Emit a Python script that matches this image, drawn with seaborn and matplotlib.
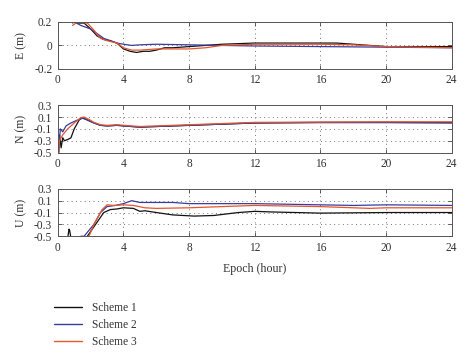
import numpy as np
import pandas as pd
import matplotlib
matplotlib.use("Agg")
import matplotlib.pyplot as plt
import seaborn as sns
from matplotlib.lines import Line2D

# ---- data (hours, metres) ----
# E component
e_t1 = [0.9, 1.2, 1.6, 2.0, 2.4, 2.8, 3.2, 3.6, 4.0, 4.4, 4.8, 5.2, 5.6, 6.0, 6.5, 7, 8, 9, 10, 11, 12, 14, 16, 17, 18, 19, 20, 22, 24]
e_s1 = [0.20, 0.19, 0.19, 0.14, 0.08, 0.05, 0.04, 0.02, -0.03, -0.05, -0.06, -0.05, -0.05, -0.04, -0.02, -0.02, -0.01, 0.0, 0.01, 0.015, 0.02, 0.02, 0.02, 0.02, 0.01, 0.0, -0.01, -0.01, -0.01]
e_t2 = [0.9, 1.0, 1.4, 2.0, 2.4, 2.8, 3.2, 3.6, 4.0, 4.5, 5, 6, 8, 10, 12, 16, 20, 24]
e_s2 = [0.19, 0.20, 0.17, 0.14, 0.10, 0.06, 0.04, 0.02, 0.01, 0.0, 0.005, 0.01, 0.005, 0.0, -0.005, -0.01, -0.015, -0.02]
e_t3 = [0.9, 1.2, 1.8, 2.2, 2.6, 3.0, 3.6, 4.0, 4.5, 5, 6, 8, 9, 10, 12, 16, 18, 20, 24]
e_s3 = [0.17, 0.20, 0.19, 0.13, 0.06, 0.04, 0.02, -0.02, -0.04, -0.04, -0.03, -0.03, -0.02, 0.0, 0.01, 0.01, 0.005, -0.01, -0.02]

# N component
n_t1 = [0.05, 0.1, 0.2, 0.3, 0.4, 0.6, 0.8, 1.0, 1.3, 1.5, 1.8, 2.2, 2.6, 3.0, 3.6, 4.5, 5, 6, 8, 10, 12, 16, 20, 24]
n_s1 = [-0.50, -0.20, -0.42, -0.25, -0.30, -0.28, -0.25, -0.10, 0.05, 0.09, 0.05, 0.0, -0.04, -0.05, -0.04, -0.06, -0.07, -0.06, -0.04, -0.02, 0.0, 0.01, 0.01, 0.005]
n_t2 = [0.05, 0.15, 0.3, 0.5, 0.8, 1.2, 1.5, 1.8, 2.2, 2.6, 3.0, 3.6, 4.5, 5, 6, 8, 10, 12, 16, 20, 24]
n_s2 = [-0.50, -0.10, -0.15, -0.05, 0.0, 0.05, 0.08, 0.05, 0.0, -0.04, -0.05, -0.04, -0.06, -0.07, -0.06, -0.04, -0.02, 0.0, 0.005, 0.005, 0.0]
n_t3 = [0.05, 0.1, 0.3, 0.6, 1.0, 1.4, 1.6, 1.9, 2.2, 2.6, 3.0, 3.6, 4.5, 5, 6, 8, 10, 12, 16, 20, 24]
n_s3 = [-0.50, -0.30, -0.20, -0.10, 0.0, 0.09, 0.10, 0.06, 0.01, -0.03, -0.04, -0.03, -0.05, -0.06, -0.05, -0.03, -0.01, 0.01, 0.015, 0.02, 0.02]

# U component (values below -0.5 run off the bottom of the panel)
u_t1 = [0.55, 0.62, 0.68, 0.72, 0.78, 0.85, 1.7, 1.8, 2.3, 2.8, 3.2, 3.6, 4.0, 4.6, 5.0, 5.3, 6, 7, 8.3, 9.5, 11, 12, 13, 16, 20, 22, 24]
u_s1 = [-0.70, -0.50, -0.38, -0.40, -0.50, -0.70, -0.70, -0.50, -0.30, -0.10, -0.05, -0.04, -0.02, -0.03, -0.08, -0.07, -0.10, -0.14, -0.16, -0.15, -0.10, -0.08, -0.09, -0.11, -0.10, -0.10, -0.10]
u_t2 = [1.3, 1.4, 1.6, 2.2, 2.6, 3.0, 3.5, 4.0, 4.5, 5, 7, 8, 12, 16, 18, 20, 24]
u_s2 = [-0.70, -0.50, -0.50, -0.30, -0.10, 0.0, 0.02, 0.05, 0.10, 0.07, 0.07, 0.05, 0.05, 0.03, 0.02, 0.03, 0.02]
u_t3 = [1.8, 1.9, 2.2, 2.7, 3.0, 3.4, 4.0, 4.6, 5.3, 6, 8, 10, 12, 16, 19, 20, 24]
u_s3 = [-0.70, -0.50, -0.30, -0.05, 0.03, 0.02, 0.03, 0.02, -0.02, -0.03, -0.02, 0.0, 0.02, 0.0, -0.03, -0.02, -0.02]

schemes = ["Scheme 1", "Scheme 2", "Scheme 3"]
colors = ["#111111", "#3b3b9e", "#e4572e"]

panels = [
    ("E (m)", [(e_t1, e_s1), (e_t2, e_s2), (e_t3, e_s3)], (-0.2, 0.2), [-0.2, 0, 0.2], ["-0.2", "0", "0.2"], [0]),
    ("N (m)", [(n_t1, n_s1), (n_t2, n_s2), (n_t3, n_s3)], (-0.5, 0.3), [-0.5, -0.3, -0.1, 0.1, 0.3], ["-0.5", "-0.3", "-0.1", "0.1", "0.3"], [-0.3, -0.1, 0.1]),
    ("U (m)", [(u_t1, u_s1), (u_t2, u_s2), (u_t3, u_s3)], (-0.5, 0.3), [-0.5, -0.3, -0.1, 0.1, 0.3], ["-0.5", "-0.3", "-0.1", "0.1", "0.3"], [-0.3, -0.1, 0.1]),
]
xticks = [0, 4, 8, 12, 16, 20, 24]

sns.set_style("ticks")
plt.rcParams['font.family'] = ['Liberation Serif', 'DejaVu Serif']

fig = plt.figure(figsize=(4.74, 3.59), dpi=100)
boxes = [[0.122, 0.808, 0.831, 0.131],
         [0.122, 0.575, 0.831, 0.132],
         [0.122, 0.342, 0.831, 0.132]]

txt = "#333333"
for box, (ylab, series, ylim, yt, ytl, hgrid) in zip(boxes, panels):
    ax = fig.add_axes(box)
    for (t, v), name, c in zip(series, schemes, colors):
        df = pd.DataFrame({"t": t, "v": v})
        sns.lineplot(data=df, x="t", y="v", color=c, lw=0.9, ax=ax, sort=False)
    for x in xticks[1:-1]:
        ax.axvline(x, color="#777777", ls=(0, (1, 3.5)), lw=0.7, zorder=0)
    for y in hgrid:
        ax.axhline(y, color="#777777", ls=(0, (1, 3.5)), lw=0.7, zorder=0)
    ax.set_xlim(0, 24)
    ax.set_ylim(*ylim)
    ax.set_xticks(xticks)
    ax.set_yticks(yt)
    ax.set_yticklabels(ytl)
    ax.set_xlabel("")
    ax.set_ylabel(ylab, fontsize=8.5, color=txt, labelpad=5)
    ax.tick_params(direction="in", top=True, right=True, length=3, width=0.6,
                   labelsize=8.3, labelcolor=txt, pad=4, color="#444444")
    for s in ax.spines.values():
        s.set_linewidth(0.7)
        s.set_color("#555555")

fig.text(0.537, 0.25, "Epoch (hour)", ha="center", va="center", fontsize=8.6, color=txt)

handles = [Line2D([], [], color=c, lw=1.0) for c in colors]
fig.legend(handles, schemes, loc="upper left", bbox_to_anchor=(0.105, 0.172),
           frameon=False, fontsize=8.3, handlelength=2.4, handletextpad=0.85,
           labelspacing=0.42, labelcolor=txt, borderaxespad=0)

fig.savefig("out.png", dpi=100)
